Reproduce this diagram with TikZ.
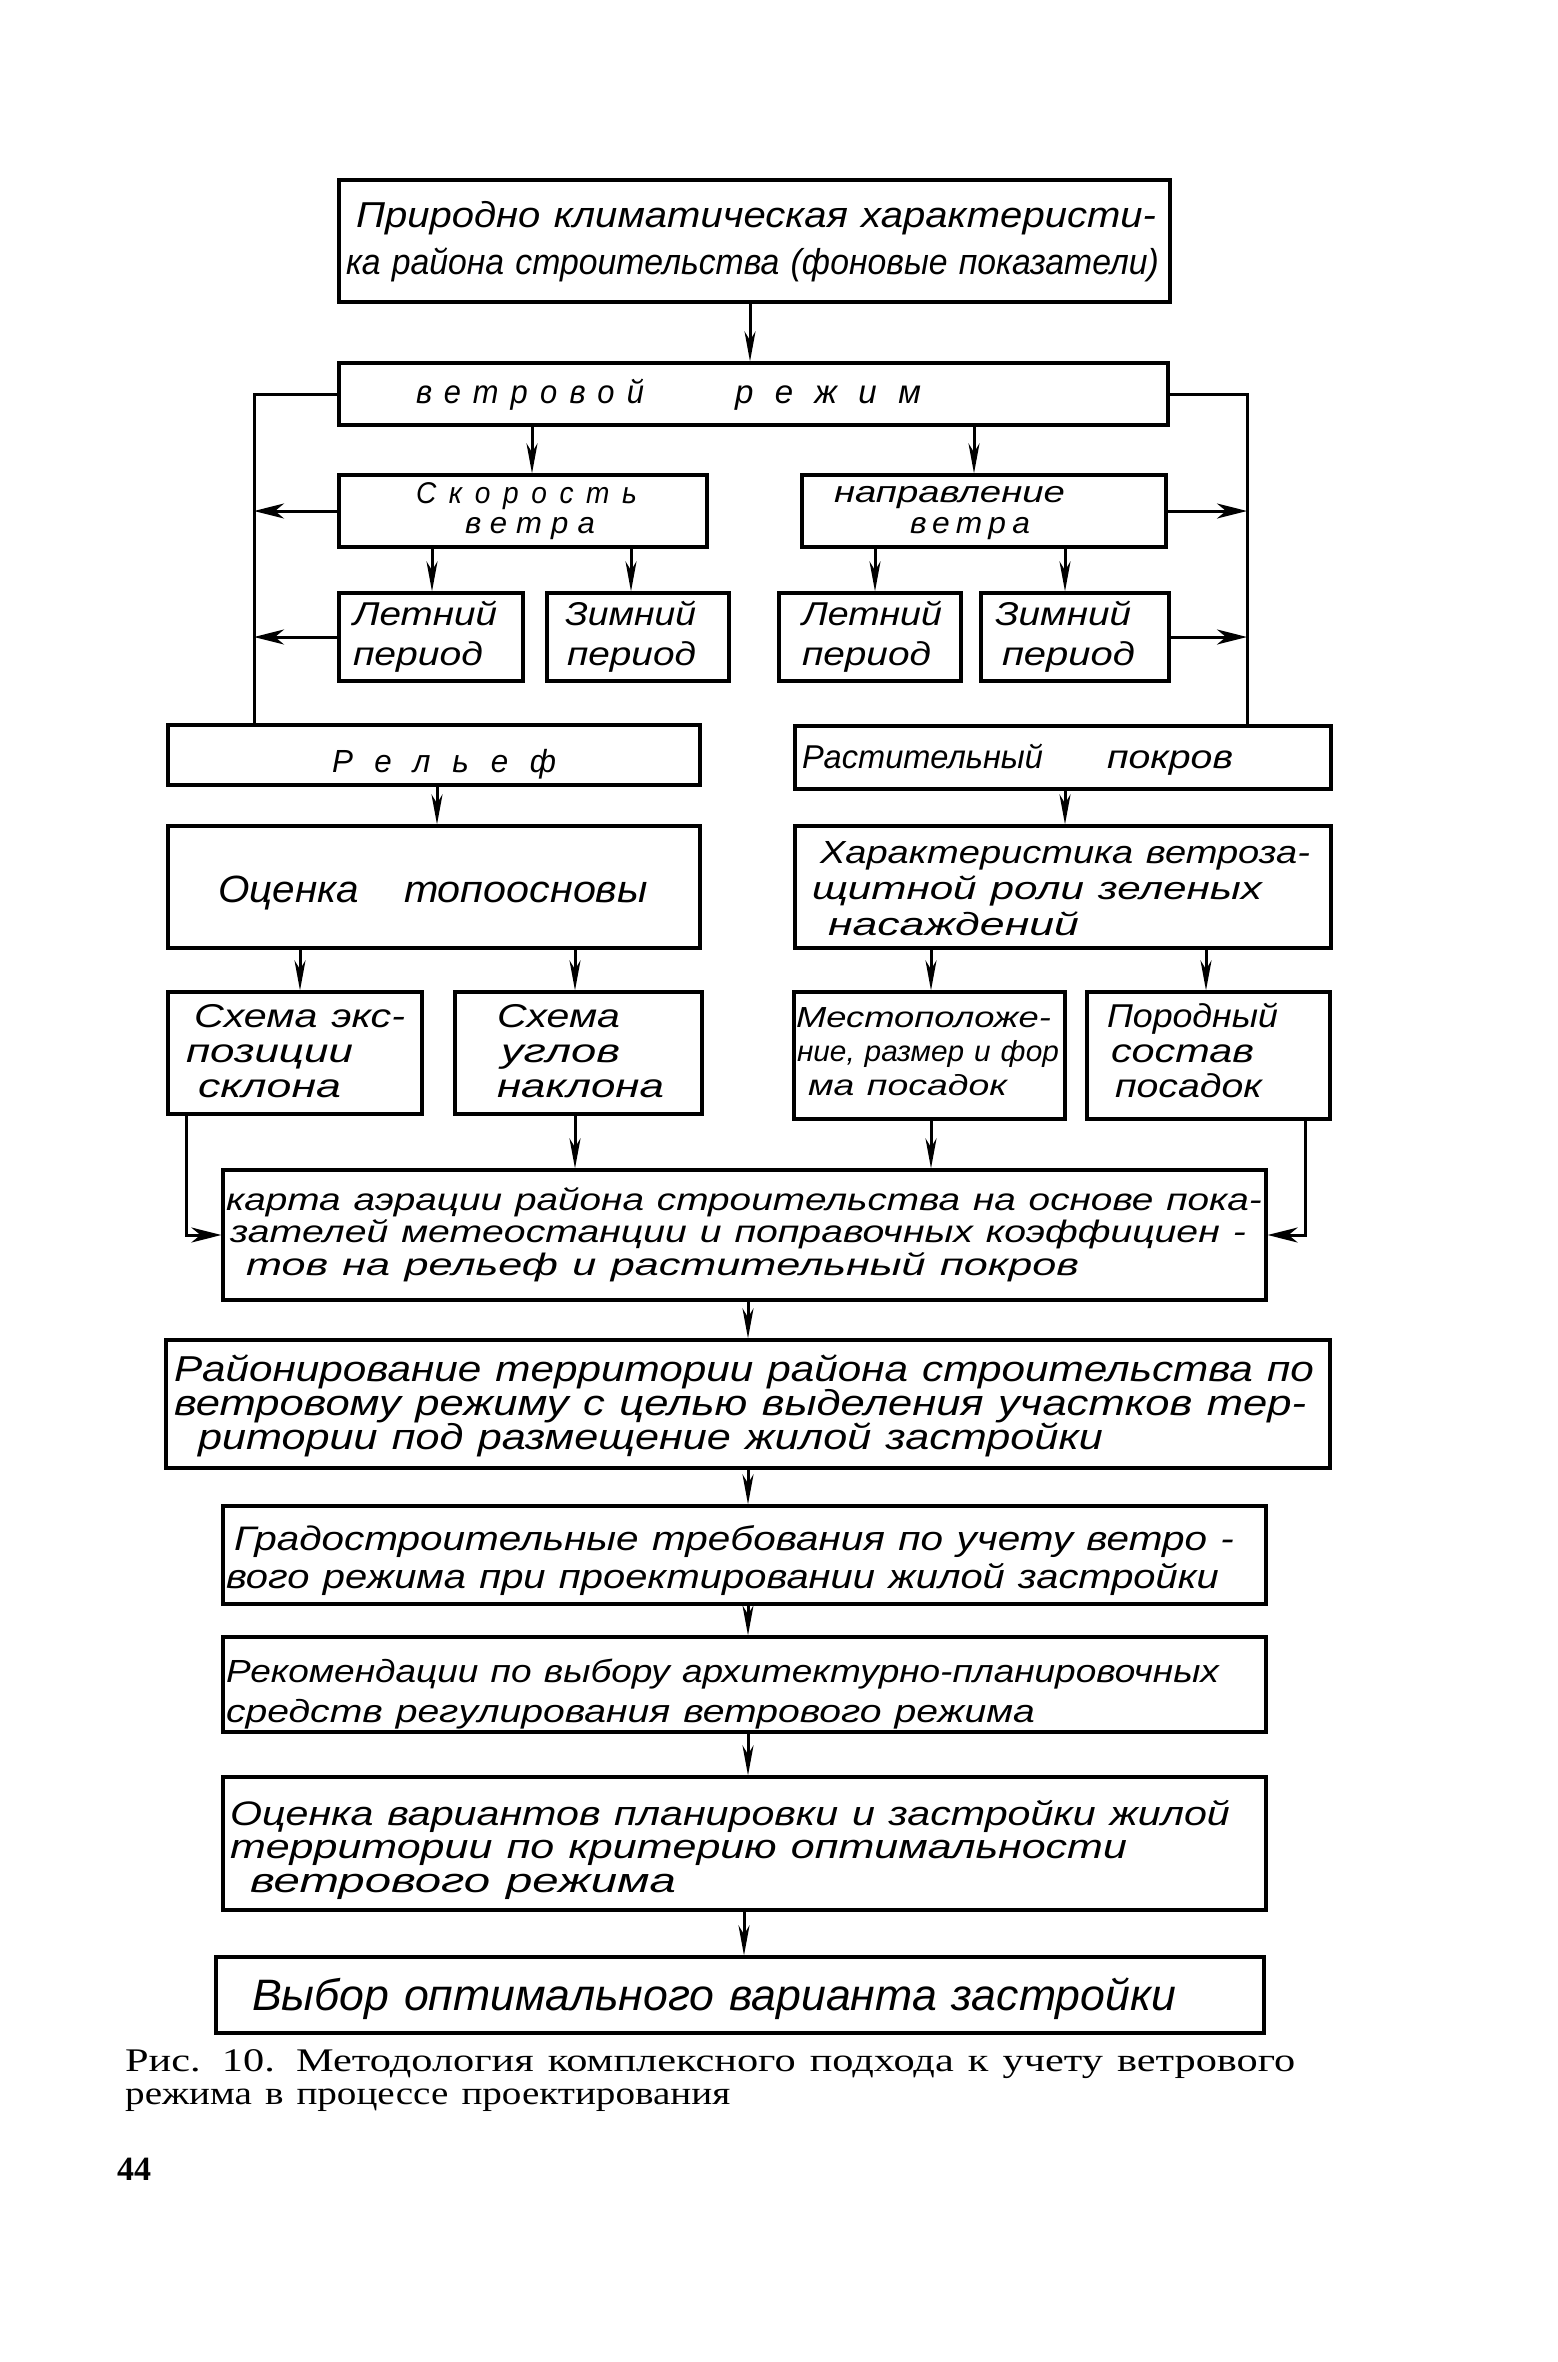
\documentclass[tikz,border=0pt]{standalone}
\usepackage{fontspec}
\usepackage{graphicx}
\setmainfont{Liberation Serif}
\newfontfamily\hand{Liberation Sans}
\usetikzlibrary{arrows.meta}
\newcommand{\hnd}{\hand\itshape\lineskiplimit=-1000pt\relax\lineskip=0pt\relax}
\newcommand{\capf}{\fontsize{33}{33}\selectfont\lineskiplimit=-1000pt\relax}
\newcommand{\pnumf}{\fontsize{34}{34}\selectfont\bfseries}
% one line of box text, stretched between absolute x positions #1 and #2
\newcommand{\tx}[3]{\makebox[0pt][l]{\hspace*{\dimexpr #1pt-\bxl pt\relax}\resizebox{\dimexpr #2pt-#1pt\relax}{\height}{#3}}}
% box: name, x1, y1, x2, y2, first baseline, last baseline, {size}{skip}, content
\newcommand{\bx}[9]{%
  \pgfmathsetmacro\bxl{#2}%
  \pgfmathsetmacro\bcx{(#2+#4)/2}%
  \pgfmathsetmacro\bcy{(#3+#5)/2}%
  \pgfmathsetmacro\bw{#4-#2}%
  \pgfmathsetmacro\bh{#5-#3}%
  \pgfmathsetmacro\be{(#6+#7)/2-\bcy}%
  \pgfmathsetmacro\bk{(\bh-(#7-#6))/2-0.5}%
  \pgfmathsetmacro\bsa{\bk+\be}%
  \pgfmathsetmacro\bsd{\bk-\be}%
  \node[box, font={\hnd\fontsize#8\selectfont}, minimum width=\bw pt, minimum height=\bh pt, text width=\bw pt] (#1) at (\bcx,\bcy)
    {\noindent\rule{0pt}{\bsa pt}#9\rule[-\bsd pt]{0pt}{\bsd pt}};%
}
\begin{document}
\begin{tikzpicture}[x=1pt,y=-1pt,
  box/.style={draw, line width=3.2pt, inner sep=0pt, align=left},
  con/.style={line width=3pt},
  arr/.style={con, -{Stealth[length=30pt,width=11pt,inset=9pt]}},
  sarr/.style={con, -{Stealth[length=30pt,width=15pt,inset=9pt]}}]
\fill[white] (0,0) rectangle (1558,2362);
\path[use as bounding box] (0,0) rectangle (1558,2362);

\bx{top}{339}{180}{1170}{302}{227}{274}{{36}{47}}{%
  \tx{356}{1156}{Природно климатическая характеристи-}\\
  \tx{346}{1159}{ка района строительства (фоновые показатели)}}
\bx{wind}{339}{363}{1168}{425}{403}{403}{{33}{33}}{%
  \tx{416}{644}{\addfontfeature{LetterSpace=40}ветровой}\tx{735}{921}{\addfontfeature{LetterSpace=65}режим}}
\bx{speed}{339}{475}{707}{547}{503}{533}{{30}{30}}{%
  \tx{416}{637}{\addfontfeature{LetterSpace=45}Скорость}\\
  \tx{465}{595}{\addfontfeature{LetterSpace=30}ветра}}
\bx{dir}{802}{475}{1166}{547}{502}{533}{{30}{31}}{%
  \tx{834}{1065}{направление}\\
  \tx{910}{1030}{\addfontfeature{LetterSpace=20}ветра}}
\bx{sumL}{339}{593}{523}{681}{625}{665}{{33}{40}}{%
  \tx{353}{497}{Летний}\\
  \tx{353}{483}{период}}
\bx{winL}{547}{593}{729}{681}{625}{665}{{33}{40}}{%
  \tx{565}{696}{Зимний}\\
  \tx{567}{696}{период}}
\bx{sumR}{779}{593}{961}{681}{625}{665}{{33}{40}}{%
  \tx{802}{942}{Летний}\\
  \tx{802}{931}{период}}
\bx{winR}{981}{593}{1169}{681}{625}{665}{{33}{40}}{%
  \tx{995}{1131}{Зимний}\\
  \tx{1002}{1135}{период}}
\bx{relief}{168}{725}{700}{785}{772}{772}{{32}{32}}{%
  \tx{332}{556}{\addfontfeature{LetterSpace=70}Рельеф}}
\bx{veg}{795}{726}{1331}{789}{768}{768}{{33}{33}}{%
  \tx{802}{1043}{Растительный}\tx{1107}{1233}{покров}}
\bx{topo}{168}{826}{700}{948}{902}{902}{{38}{38}}{%
  \tx{218}{359}{Оценка}\tx{404}{648}{топоосновы}}
\bx{char}{795}{826}{1331}{948}{863}{935}{{32}{36}}{%
  \tx{820}{1310}{Характеристика ветроза-}\\
  \tx{812}{1262}{щитной роли зеленых}\\
  \tx{828}{1079}{насаждений}}
\bx{exp}{168}{992}{422}{1114}{1027}{1097}{{33}{35}}{%
  \tx{194}{405}{Схема экс-}\\
  \tx{186}{353}{позиции}\\
  \tx{198}{341}{склона}}
\bx{ang}{455}{992}{702}{1114}{1027}{1097}{{33}{35}}{%
  \tx{497}{620}{Схема}\\
  \tx{501}{620}{углов}\\
  \tx{497}{664}{наклона}}
\bx{loc}{794}{992}{1065}{1119}{1027}{1095}{{29}{34}}{%
  \tx{796}{1051}{Местоположе-}\\
  \tx{797}{1059}{ние, размер и фор}\\
  \tx{808}{1007}{ма посадок}}
\bx{breed}{1087}{992}{1330}{1119}{1027}{1097}{{33}{35}}{%
  \tx{1107}{1278}{Породный}\\
  \tx{1111}{1254}{состав}\\
  \tx{1115}{1262}{посадок}}
\bx{map}{223}{1170}{1266}{1300}{1210}{1275}{{31}{32.5}}{%
  \tx{226}{1262}{карта аэрации района строительства на основе пока-}\\
  \tx{230}{1246}{зателей метеостанции и поправочных коэффициен -}\\
  \tx{246}{1079}{тов на рельеф и растительный покров}}
\bx{zone}{166}{1340}{1330}{1468}{1381}{1449}{{36}{34}}{%
  \tx{174}{1314}{Районирование территории района строительства по}\\
  \tx{174}{1306}{ветровому режиму с целью выделения участков тер-}\\
  \tx{198}{1103}{ритории под размещение жилой застройки}}
\bx{grad}{223}{1506}{1266}{1604}{1550}{1588}{{34}{38}}{%
  \tx{234}{1234}{Градостроительные требования по учету ветро -}\\
  \tx{226}{1219}{вого режима при проектировании жилой застройки}}
\bx{rec}{223}{1637}{1266}{1732}{1682}{1722}{{32}{40}}{%
  \tx{226}{1219}{Рекомендации по выбору архитектурно-планировочных}\\
  \tx{226}{1035}{средств регулирования ветрового режима}}
\bx{var}{223}{1777}{1266}{1910}{1825}{1892}{{34}{33.5}}{%
  \tx{230}{1230}{Оценка вариантов планировки и застройки жилой}\\
  \tx{230}{1127}{территории по критерию оптимальности}\\
  \tx{250}{676}{ветрового режима}}
\bx{choice}{216}{1957}{1264}{2033}{2010}{2010}{{44}{44}}{%
  \tx{252}{1176}{Выбор оптимального варианта застройки}}

% caption and page number
\node[anchor=north west, inner sep=0pt, text width=1300pt, align=left, font=\capf] (caption) at (125,2041)
  {\noindent\rule{0pt}{30pt}\resizebox{1170pt}{\height}{Рис. 10. Методология комплексного подхода к учету ветрового}\\
   \resizebox{605pt}{\height}{режима в процессе проектирования}};
\node[anchor=base west, inner sep=0pt, font=\pnumf] (pnum) at (117,2180) {44};

% x positions of connectors
\coordinate (xL) at (254,0);
\coordinate (xR) at (1247,0);
\coordinate (xBL) at (186,0);
\coordinate (xBR) at (1305,0);
\coordinate (xTop) at (750,0);
\coordinate (xSp) at (532,0);
\coordinate (xDi) at (974,0);
\coordinate (xSL) at (432,0);
\coordinate (xWL) at (631,0);
\coordinate (xSR) at (875,0);
\coordinate (xWR) at (1065,0);
\coordinate (xRe) at (437,0);
\coordinate (xVe) at (1065,0);
\coordinate (xEx) at (300,0);
\coordinate (xAn) at (575,0);
\coordinate (xLo) at (931,0);
\coordinate (xBr) at (1206,0);
\coordinate (xMid) at (748,0);
\coordinate (xLast) at (744,0);

% connectors
\draw[arr] (top.south -| xTop) -- (wind.north -| xTop);
\draw[arr] (wind.south -| xSp) -- (speed.north -| xSp);
\draw[arr] (wind.south -| xDi) -- (dir.north -| xDi);
\draw[con] (wind.west) -- (wind.west -| xL) -- (relief.north -| xL);
\draw[con] (wind.east) -- (wind.east -| xR) -- (veg.north -| xR);
\draw[sarr] (speed.west) -- (speed.west -| xL);
\draw[sarr] (sumL.west) -- (sumL.west -| xL);
\draw[sarr] (dir.east) -- (dir.east -| xR);
\draw[sarr] (winR.east) -- (winR.east -| xR);
\draw[arr] (speed.south -| xSL) -- (sumL.north -| xSL);
\draw[arr] (speed.south -| xWL) -- (winL.north -| xWL);
\draw[arr] (dir.south -| xSR) -- (sumR.north -| xSR);
\draw[arr] (dir.south -| xWR) -- (winR.north -| xWR);
\draw[arr] (relief.south -| xRe) -- (topo.north -| xRe);
\draw[arr] (veg.south -| xVe) -- (char.north -| xVe);
\draw[arr] (topo.south -| xEx) -- (exp.north -| xEx);
\draw[arr] (topo.south -| xAn) -- (ang.north -| xAn);
\draw[arr] (char.south -| xLo) -- (loc.north -| xLo);
\draw[arr] (char.south -| xBr) -- (breed.north -| xBr);
\draw[sarr] (exp.south -| xBL) |- (map.west);
\draw[sarr] (breed.south -| xBR) |- (map.east);
\draw[arr] (ang.south -| xAn) -- (map.north -| xAn);
\draw[arr] (loc.south -| xLo) -- (map.north -| xLo);
\draw[arr] (map.south -| xMid) -- (zone.north -| xMid);
\draw[arr] (zone.south -| xMid) -- (grad.north -| xMid);
\draw[arr] (grad.south -| xMid) -- (rec.north -| xMid);
\draw[arr] (rec.south -| xMid) -- (var.north -| xMid);
\draw[arr] (var.south -| xLast) -- (choice.north -| xLast);
\end{tikzpicture}
\end{document}
